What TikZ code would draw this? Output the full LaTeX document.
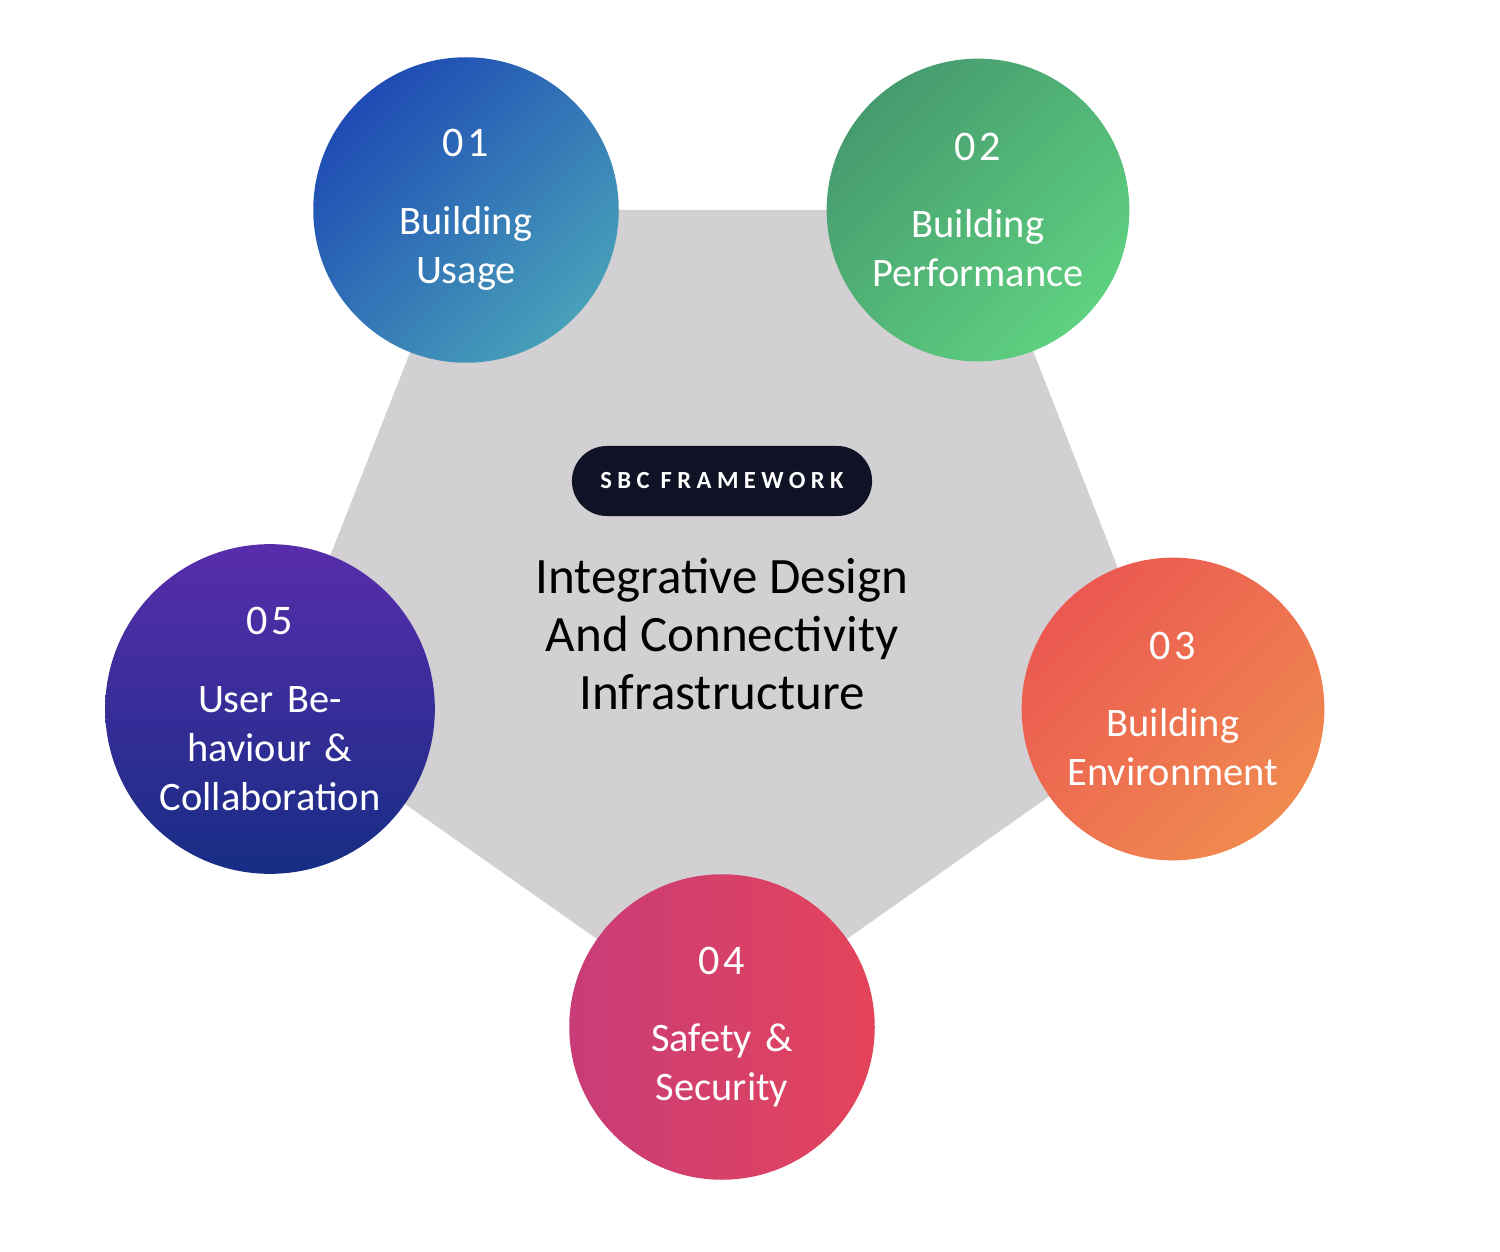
\documentclass[tikz,border=0pt]{standalone}
\usepackage{fontspec}
\setmainfont{Carlito}
\usetikzlibrary{positioning}
\definecolor{pentagray}{RGB}{210,208,210}
\definecolor{pillnavy}{RGB}{16,18,38}
\begin{document}
\begin{tikzpicture}[x=0.01cm, y=-0.01cm,
  topic/.style = {circle, minimum size=2.94cm, text width=2.6cm, inner sep=0pt, align=center,
                  text=white, font=\fontsize{11.5}{14}\selectfont, shading=axis},
                        ]
\useasboundingbox (0,0) rectangle (1500,1252);
% corners
\coordinate (c1) at (466,210);
\coordinate (c2) at (978,210);
\coordinate (c3) at (1173,709);
\coordinate (c4) at (722,1027);
\coordinate (c5) at (270,709);
% pentagon
\path[fill=pentagray] (c1) -- (c2) -- (c3) -- (c4) -- (c5) -- cycle;
% topics
\newcommand\topictext[3]{{\addfontfeatures{LetterSpace=8}\fontsize{12}{14}\selectfont #1}\\[0.7em]#2\\#3\\[0.6em]}
\node[topic, top color={rgb,255:red,30;green,75;blue,180}, bottom color={rgb,255:red,72;green,160;blue,185}, shading angle=45]
  (usage) at (c1) {\topictext{01}{Building}{Usage}};
\node[topic, top color={rgb,255:red,70;green,155;blue,110}, bottom color={rgb,255:red,95;green,208;blue,128}, shading angle=45]
  (perf) at (c2) {\topictext{02}{Building}{Performance}};
\node[topic, top color={rgb,255:red,235;green,88;blue,80}, bottom color={rgb,255:red,240;green,138;blue,80}, shading angle=45]
  (envir) at (c3) {\topictext{03}{Building}{Environment}};
\node[topic, left color={rgb,255:red,200;green,60;blue,120}, right color={rgb,255:red,228;green,68;blue,90}]
  (safety) at (c4) {\topictext{04}{Safety \&}{Security}};
\node[topic, top color={rgb,255:red,88;green,45;blue,172}, bottom color={rgb,255:red,22;green,45;blue,132}]
  (users) at (c5) {\topictext{05}{User Behaviour \&}{Collaboration}};
% center
\node[fill=pillnavy, rounded corners=0.35cm, minimum width=3cm, minimum height=0.7cm,
      text=white, font=\bfseries\fontsize{7}{9}\selectfont\addfontfeatures{LetterSpace=22}]
  (pill) at (722,481) {SBC FRAMEWORK};
\node[align=center, font=\fontsize{14.5}{16.5}\selectfont] (title) at (722,634)
  {Integrative Design\\And Connectivity\\Infrastructure};
\end{tikzpicture}
\end{document}
